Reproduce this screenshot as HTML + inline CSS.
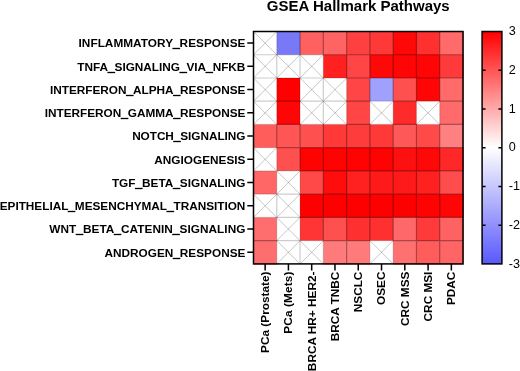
<!DOCTYPE html><html><head><meta charset="utf-8"><style>html,body{margin:0;padding:0;background:#fff;width:520px;height:371px;overflow:hidden}</style></head><body><svg width="520" height="371" viewBox="0 0 520 371" style="position:absolute;left:0;top:0">
<rect x="253.50" y="31.50" width="23.28" height="23.24" fill="#fff"/>
<rect x="276.78" y="31.50" width="23.98" height="23.94" fill="#7979f8"/>
<rect x="300.06" y="31.50" width="23.98" height="23.94" fill="#ff6060"/>
<rect x="323.33" y="31.50" width="23.98" height="23.94" fill="#ff6464"/>
<rect x="346.61" y="31.50" width="23.98" height="23.94" fill="#ff4040"/>
<rect x="369.89" y="31.50" width="23.98" height="23.94" fill="#ff3838"/>
<rect x="393.17" y="31.50" width="23.98" height="23.94" fill="#ff0808"/>
<rect x="416.44" y="31.50" width="23.98" height="23.94" fill="#ff3030"/>
<rect x="439.72" y="31.50" width="23.98" height="23.94" fill="#ff6a6a"/>
<rect x="253.50" y="54.74" width="23.28" height="23.24" fill="#fff"/>
<rect x="276.78" y="54.74" width="23.28" height="23.24" fill="#fff"/>
<rect x="300.06" y="54.74" width="23.28" height="23.24" fill="#fff"/>
<rect x="323.33" y="54.74" width="23.98" height="23.94" fill="#ff2020"/>
<rect x="346.61" y="54.74" width="23.98" height="23.94" fill="#ff4545"/>
<rect x="369.89" y="54.74" width="23.98" height="23.94" fill="#ff0808"/>
<rect x="393.17" y="54.74" width="23.98" height="23.94" fill="#ff0505"/>
<rect x="416.44" y="54.74" width="23.98" height="23.94" fill="#ff0505"/>
<rect x="439.72" y="54.74" width="23.98" height="23.94" fill="#ff3a3a"/>
<rect x="253.50" y="77.98" width="23.28" height="23.24" fill="#fff"/>
<rect x="276.78" y="77.98" width="23.98" height="23.94" fill="#ff0000"/>
<rect x="300.06" y="77.98" width="23.28" height="23.24" fill="#fff"/>
<rect x="323.33" y="77.98" width="23.28" height="23.24" fill="#fff"/>
<rect x="346.61" y="77.98" width="23.98" height="23.94" fill="#ff4545"/>
<rect x="369.89" y="77.98" width="23.98" height="23.94" fill="#a0a0ff"/>
<rect x="393.17" y="77.98" width="23.98" height="23.94" fill="#ff5050"/>
<rect x="416.44" y="77.98" width="23.98" height="23.94" fill="#ff0505"/>
<rect x="439.72" y="77.98" width="23.98" height="23.94" fill="#ff6a6a"/>
<rect x="253.50" y="101.22" width="23.28" height="23.24" fill="#fff"/>
<rect x="276.78" y="101.22" width="23.98" height="23.94" fill="#ff0505"/>
<rect x="300.06" y="101.22" width="23.28" height="23.24" fill="#fff"/>
<rect x="323.33" y="101.22" width="23.28" height="23.24" fill="#fff"/>
<rect x="346.61" y="101.22" width="23.98" height="23.94" fill="#ff4545"/>
<rect x="369.89" y="101.22" width="23.28" height="23.24" fill="#fff"/>
<rect x="393.17" y="101.22" width="23.98" height="23.94" fill="#ff2a2a"/>
<rect x="416.44" y="101.22" width="23.28" height="23.24" fill="#fff"/>
<rect x="439.72" y="101.22" width="23.98" height="23.94" fill="#ff6a6a"/>
<rect x="253.50" y="124.46" width="23.98" height="23.94" fill="#ff5c5c"/>
<rect x="276.78" y="124.46" width="23.98" height="23.94" fill="#ff5555"/>
<rect x="300.06" y="124.46" width="23.98" height="23.94" fill="#ff5050"/>
<rect x="323.33" y="124.46" width="23.98" height="23.94" fill="#ff3838"/>
<rect x="346.61" y="124.46" width="23.98" height="23.94" fill="#ff3c3c"/>
<rect x="369.89" y="124.46" width="23.98" height="23.94" fill="#ff3838"/>
<rect x="393.17" y="124.46" width="23.98" height="23.94" fill="#ff5858"/>
<rect x="416.44" y="124.46" width="23.98" height="23.94" fill="#ff4a4a"/>
<rect x="439.72" y="124.46" width="23.98" height="23.94" fill="#ff8080"/>
<rect x="253.50" y="147.70" width="23.28" height="23.24" fill="#fff"/>
<rect x="276.78" y="147.70" width="23.98" height="23.94" fill="#ff5050"/>
<rect x="300.06" y="147.70" width="23.98" height="23.94" fill="#ff0303"/>
<rect x="323.33" y="147.70" width="23.98" height="23.94" fill="#ff0303"/>
<rect x="346.61" y="147.70" width="23.98" height="23.94" fill="#ff0303"/>
<rect x="369.89" y="147.70" width="23.98" height="23.94" fill="#ff0303"/>
<rect x="393.17" y="147.70" width="23.98" height="23.94" fill="#ff1010"/>
<rect x="416.44" y="147.70" width="23.98" height="23.94" fill="#ff0808"/>
<rect x="439.72" y="147.70" width="23.98" height="23.94" fill="#ff2828"/>
<rect x="253.50" y="170.94" width="23.98" height="23.94" fill="#ff6666"/>
<rect x="276.78" y="170.94" width="23.28" height="23.24" fill="#fff"/>
<rect x="300.06" y="170.94" width="23.98" height="23.94" fill="#ff4848"/>
<rect x="323.33" y="170.94" width="23.98" height="23.94" fill="#ff0c0c"/>
<rect x="346.61" y="170.94" width="23.98" height="23.94" fill="#ff2020"/>
<rect x="369.89" y="170.94" width="23.98" height="23.94" fill="#ff1a1a"/>
<rect x="393.17" y="170.94" width="23.98" height="23.94" fill="#ff1a1a"/>
<rect x="416.44" y="170.94" width="23.98" height="23.94" fill="#ff2020"/>
<rect x="439.72" y="170.94" width="23.98" height="23.94" fill="#ff4c4c"/>
<rect x="253.50" y="194.18" width="23.28" height="23.24" fill="#fff"/>
<rect x="276.78" y="194.18" width="23.28" height="23.24" fill="#fff"/>
<rect x="300.06" y="194.18" width="23.98" height="23.94" fill="#ff0000"/>
<rect x="323.33" y="194.18" width="23.98" height="23.94" fill="#ff0000"/>
<rect x="346.61" y="194.18" width="23.98" height="23.94" fill="#ff0000"/>
<rect x="369.89" y="194.18" width="23.98" height="23.94" fill="#ff0000"/>
<rect x="393.17" y="194.18" width="23.98" height="23.94" fill="#ff0000"/>
<rect x="416.44" y="194.18" width="23.98" height="23.94" fill="#ff0303"/>
<rect x="439.72" y="194.18" width="23.98" height="23.94" fill="#ff0505"/>
<rect x="253.50" y="217.42" width="23.98" height="23.94" fill="#ff6e6e"/>
<rect x="276.78" y="217.42" width="23.28" height="23.24" fill="#fff"/>
<rect x="300.06" y="217.42" width="23.98" height="23.94" fill="#ff3535"/>
<rect x="323.33" y="217.42" width="23.98" height="23.94" fill="#ff5050"/>
<rect x="346.61" y="217.42" width="23.98" height="23.94" fill="#ff3030"/>
<rect x="369.89" y="217.42" width="23.98" height="23.94" fill="#ff3030"/>
<rect x="393.17" y="217.42" width="23.98" height="23.94" fill="#ff6868"/>
<rect x="416.44" y="217.42" width="23.98" height="23.94" fill="#ff3a3a"/>
<rect x="439.72" y="217.42" width="23.98" height="23.94" fill="#ff6262"/>
<rect x="253.50" y="240.66" width="23.98" height="23.94" fill="#ff6e6e"/>
<rect x="276.78" y="240.66" width="23.28" height="23.24" fill="#fff"/>
<rect x="300.06" y="240.66" width="23.28" height="23.24" fill="#fff"/>
<rect x="323.33" y="240.66" width="23.98" height="23.94" fill="#ff7a7a"/>
<rect x="346.61" y="240.66" width="23.98" height="23.94" fill="#ff7a7a"/>
<rect x="369.89" y="240.66" width="23.28" height="23.24" fill="#fff"/>
<rect x="393.17" y="240.66" width="23.98" height="23.94" fill="#ff7070"/>
<rect x="416.44" y="240.66" width="23.98" height="23.94" fill="#ff5c5c"/>
<rect x="439.72" y="240.66" width="23.98" height="23.94" fill="#ff6565"/>
<g stroke="#000" stroke-opacity="0.3" stroke-width="0.75" fill="none"><path d="M253.50 31.50L276.78 54.74M276.78 31.50L253.50 54.74"/><path d="M253.50 54.74L276.78 77.98M276.78 54.74L253.50 77.98"/><path d="M276.78 54.74L300.06 77.98M300.06 54.74L276.78 77.98"/><path d="M300.06 54.74L323.33 77.98M323.33 54.74L300.06 77.98"/><path d="M253.50 77.98L276.78 101.22M276.78 77.98L253.50 101.22"/><path d="M300.06 77.98L323.33 101.22M323.33 77.98L300.06 101.22"/><path d="M323.33 77.98L346.61 101.22M346.61 77.98L323.33 101.22"/><path d="M253.50 101.22L276.78 124.46M276.78 101.22L253.50 124.46"/><path d="M300.06 101.22L323.33 124.46M323.33 101.22L300.06 124.46"/><path d="M323.33 101.22L346.61 124.46M346.61 101.22L323.33 124.46"/><path d="M369.89 101.22L393.17 124.46M393.17 101.22L369.89 124.46"/><path d="M416.44 101.22L439.72 124.46M439.72 101.22L416.44 124.46"/><path d="M253.50 147.70L276.78 170.94M276.78 147.70L253.50 170.94"/><path d="M276.78 170.94L300.06 194.18M300.06 170.94L276.78 194.18"/><path d="M253.50 194.18L276.78 217.42M276.78 194.18L253.50 217.42"/><path d="M276.78 194.18L300.06 217.42M300.06 194.18L276.78 217.42"/><path d="M276.78 217.42L300.06 240.66M300.06 217.42L276.78 240.66"/><path d="M276.78 240.66L300.06 263.90M300.06 240.66L276.78 263.90"/><path d="M300.06 240.66L323.33 263.90M323.33 240.66L300.06 263.90"/><path d="M369.89 240.66L393.17 263.90M393.17 240.66L369.89 263.90"/></g>
<path d="M276.78 54.74V77.98M276.78 194.18V217.42M300.06 54.74V77.98M300.06 240.66V263.90M323.33 77.98V101.22M323.33 101.22V124.46M253.50 54.74H276.78M253.50 77.98H276.78M300.06 77.98H323.33M253.50 101.22H276.78M300.06 101.22H323.33M323.33 101.22H346.61M276.78 194.18H300.06M276.78 217.42H300.06M276.78 240.66H300.06" stroke="#000" stroke-opacity="0.2" stroke-width="1.2" fill="none"/>
<path d="M276.78 31.50V54.74M276.78 77.98V101.22M276.78 101.22V124.46M276.78 147.70V170.94M276.78 170.94V194.18M276.78 217.42V240.66M276.78 240.66V263.90M300.06 77.98V101.22M300.06 101.22V124.46M300.06 170.94V194.18M300.06 194.18V217.42M300.06 217.42V240.66M323.33 54.74V77.98M323.33 240.66V263.90M346.61 77.98V101.22M346.61 101.22V124.46M369.89 101.22V124.46M369.89 240.66V263.90M393.17 101.22V124.46M393.17 240.66V263.90M416.44 101.22V124.46M439.72 101.22V124.46M276.78 54.74H300.06M300.06 54.74H323.33M276.78 77.98H300.06M323.33 77.98H346.61M369.89 101.22H393.17M416.44 101.22H439.72M253.50 124.46H276.78M300.06 124.46H323.33M323.33 124.46H346.61M369.89 124.46H393.17M416.44 124.46H439.72M253.50 147.70H276.78M253.50 170.94H276.78M276.78 170.94H300.06M253.50 194.18H276.78M253.50 217.42H276.78M300.06 240.66H323.33M369.89 240.66H393.17" stroke="#000" stroke-opacity="0.13" stroke-width="1.3" fill="none"/>
<path d="M276.78 124.46V147.70M300.06 31.50V54.74M300.06 124.46V147.70M300.06 147.70V170.94M323.33 31.50V54.74M323.33 124.46V147.70M323.33 147.70V170.94M323.33 170.94V194.18M323.33 194.18V217.42M323.33 217.42V240.66M346.61 31.50V54.74M346.61 54.74V77.98M346.61 124.46V147.70M346.61 147.70V170.94M346.61 170.94V194.18M346.61 194.18V217.42M346.61 217.42V240.66M346.61 240.66V263.90M369.89 31.50V54.74M369.89 54.74V77.98M369.89 77.98V101.22M369.89 124.46V147.70M369.89 147.70V170.94M369.89 170.94V194.18M369.89 194.18V217.42M369.89 217.42V240.66M393.17 31.50V54.74M393.17 54.74V77.98M393.17 77.98V101.22M393.17 124.46V147.70M393.17 147.70V170.94M393.17 170.94V194.18M393.17 194.18V217.42M393.17 217.42V240.66M416.44 31.50V54.74M416.44 54.74V77.98M416.44 77.98V101.22M416.44 124.46V147.70M416.44 147.70V170.94M416.44 170.94V194.18M416.44 194.18V217.42M416.44 217.42V240.66M416.44 240.66V263.90M439.72 31.50V54.74M439.72 54.74V77.98M439.72 77.98V101.22M439.72 124.46V147.70M439.72 147.70V170.94M439.72 170.94V194.18M439.72 194.18V217.42M439.72 217.42V240.66M439.72 240.66V263.90M323.33 54.74H346.61M346.61 54.74H369.89M369.89 54.74H393.17M393.17 54.74H416.44M416.44 54.74H439.72M439.72 54.74H463.00M346.61 77.98H369.89M369.89 77.98H393.17M393.17 77.98H416.44M416.44 77.98H439.72M439.72 77.98H463.00M276.78 101.22H300.06M346.61 101.22H369.89M393.17 101.22H416.44M439.72 101.22H463.00M276.78 124.46H300.06M346.61 124.46H369.89M393.17 124.46H416.44M439.72 124.46H463.00M276.78 147.70H300.06M300.06 147.70H323.33M323.33 147.70H346.61M346.61 147.70H369.89M369.89 147.70H393.17M393.17 147.70H416.44M416.44 147.70H439.72M439.72 147.70H463.00M300.06 170.94H323.33M323.33 170.94H346.61M346.61 170.94H369.89M369.89 170.94H393.17M393.17 170.94H416.44M416.44 170.94H439.72M439.72 170.94H463.00M300.06 194.18H323.33M323.33 194.18H346.61M346.61 194.18H369.89M369.89 194.18H393.17M393.17 194.18H416.44M416.44 194.18H439.72M439.72 194.18H463.00M300.06 217.42H323.33M323.33 217.42H346.61M346.61 217.42H369.89M369.89 217.42H393.17M393.17 217.42H416.44M416.44 217.42H439.72M439.72 217.42H463.00M253.50 240.66H276.78M323.33 240.66H346.61M346.61 240.66H369.89M393.17 240.66H416.44M416.44 240.66H439.72M439.72 240.66H463.00" stroke="#000" stroke-opacity="0.33" stroke-width="1.2" fill="none"/>
<rect x="253.5" y="31.5" width="209.5" height="232.39999999999998" fill="none" stroke="#000" stroke-width="1.5"/>
<path d="M247.3 43.12H253.5M247.3 66.36H253.5M247.3 89.60H253.5M247.3 112.84H253.5M247.3 136.08H253.5M247.3 159.32H253.5M247.3 182.56H253.5M247.3 205.80H253.5M247.3 229.04H253.5M247.3 252.28H253.5M265.14 263.9V270.5M288.42 263.9V270.5M311.69 263.9V270.5M334.97 263.9V270.5M358.25 263.9V270.5M381.53 263.9V270.5M404.81 263.9V270.5M428.08 263.9V270.5M451.36 263.9V270.5" stroke="#000" stroke-width="1.5" fill="none"/>
<text x="245.4" y="47.42" text-anchor="end" textLength="166.87" lengthAdjust="spacing" font-family="'Liberation Sans', Arial, sans-serif" font-weight="bold" font-size="11.8">INFLAMMATORY<tspan stroke="#000" stroke-width="0.9">_</tspan>RESPONSE</text>
<text x="245.4" y="70.66" text-anchor="end" textLength="168.15" lengthAdjust="spacing" font-family="'Liberation Sans', Arial, sans-serif" font-weight="bold" font-size="11.8">TNFA<tspan stroke="#000" stroke-width="0.9">_</tspan>SIGNALING<tspan stroke="#000" stroke-width="0.9">_</tspan>VIA<tspan stroke="#000" stroke-width="0.9">_</tspan>NFKB</text>
<text x="245.4" y="93.90" text-anchor="end" textLength="195.40" lengthAdjust="spacing" font-family="'Liberation Sans', Arial, sans-serif" font-weight="bold" font-size="11.8">INTERFERON<tspan stroke="#000" stroke-width="0.9">_</tspan>ALPHA<tspan stroke="#000" stroke-width="0.9">_</tspan>RESPONSE</text>
<text x="245.4" y="117.14" text-anchor="end" textLength="200.63" lengthAdjust="spacing" font-family="'Liberation Sans', Arial, sans-serif" font-weight="bold" font-size="11.8">INTERFERON<tspan stroke="#000" stroke-width="0.9">_</tspan>GAMMA<tspan stroke="#000" stroke-width="0.9">_</tspan>RESPONSE</text>
<text x="245.4" y="140.38" text-anchor="end" textLength="113.25" lengthAdjust="spacing" font-family="'Liberation Sans', Arial, sans-serif" font-weight="bold" font-size="11.8">NOTCH<tspan stroke="#000" stroke-width="0.9">_</tspan>SIGNALING</text>
<text x="245.4" y="163.62" text-anchor="end" textLength="91.13" lengthAdjust="spacing" font-family="'Liberation Sans', Arial, sans-serif" font-weight="bold" font-size="11.8">ANGIOGENESIS</text>
<text x="245.4" y="186.86" text-anchor="end" textLength="133.50" lengthAdjust="spacing" font-family="'Liberation Sans', Arial, sans-serif" font-weight="bold" font-size="11.8">TGF<tspan stroke="#000" stroke-width="0.9">_</tspan>BETA<tspan stroke="#000" stroke-width="0.9">_</tspan>SIGNALING</text>
<text x="245.4" y="210.10" text-anchor="end" textLength="245.65" lengthAdjust="spacing" font-family="'Liberation Sans', Arial, sans-serif" font-weight="bold" font-size="11.8">EPITHELIAL<tspan stroke="#000" stroke-width="0.9">_</tspan>MESENCHYMAL<tspan stroke="#000" stroke-width="0.9">_</tspan>TRANSITION</text>
<text x="245.4" y="233.34" text-anchor="end" textLength="196.08" lengthAdjust="spacing" font-family="'Liberation Sans', Arial, sans-serif" font-weight="bold" font-size="11.8">WNT<tspan stroke="#000" stroke-width="0.9">_</tspan>BETA<tspan stroke="#000" stroke-width="0.9">_</tspan>CATENIN<tspan stroke="#000" stroke-width="0.9">_</tspan>SIGNALING</text>
<text x="245.4" y="256.58" text-anchor="end" textLength="140.94" lengthAdjust="spacing" font-family="'Liberation Sans', Arial, sans-serif" font-weight="bold" font-size="11.8">ANDROGEN<tspan stroke="#000" stroke-width="0.9">_</tspan>RESPONSE</text>
<text transform="translate(268.64,271.6) rotate(-90)" text-anchor="end" font-family="'Liberation Sans', Arial, sans-serif" font-weight="bold" font-size="11.8">PCa (Prostate)</text>
<text transform="translate(291.92,271.6) rotate(-90)" text-anchor="end" textLength="62.1" lengthAdjust="spacing" font-family="'Liberation Sans', Arial, sans-serif" font-weight="bold" font-size="11.8">PCa (Mets)</text>
<text transform="translate(315.69,271.6) rotate(-90)" text-anchor="end" font-family="'Liberation Sans', Arial, sans-serif" font-weight="bold" font-size="11.8">BRCA HR+ HER2-</text>
<text transform="translate(339.07,271.6) rotate(-90)" text-anchor="end" font-family="'Liberation Sans', Arial, sans-serif" font-weight="bold" font-size="11.8">BRCA TNBC</text>
<text transform="translate(361.75,271.6) rotate(-90)" text-anchor="end" font-family="'Liberation Sans', Arial, sans-serif" font-weight="bold" font-size="11.8">NSCLC</text>
<text transform="translate(385.03,271.6) rotate(-90)" text-anchor="end" font-family="'Liberation Sans', Arial, sans-serif" font-weight="bold" font-size="11.8">OSEC</text>
<text transform="translate(408.71,271.6) rotate(-90)" text-anchor="end" font-family="'Liberation Sans', Arial, sans-serif" font-weight="bold" font-size="11.8">CRC MSS</text>
<text transform="translate(431.58,271.6) rotate(-90)" text-anchor="end" font-family="'Liberation Sans', Arial, sans-serif" font-weight="bold" font-size="11.8">CRC MSI</text>
<text transform="translate(454.86,271.6) rotate(-90)" text-anchor="end" font-family="'Liberation Sans', Arial, sans-serif" font-weight="bold" font-size="11.8">PDAC</text>
<text x="358.3" y="11.2" text-anchor="middle" font-family="'Liberation Sans', Arial, sans-serif" font-weight="bold" font-size="15">GSEA Hallmark Pathways</text>
<defs><linearGradient id="cb" x1="0" y1="0" x2="0" y2="1"><stop offset="0" stop-color="#ff0000"/><stop offset="0.5" stop-color="#ffffff"/><stop offset="1" stop-color="#5858fc"/></linearGradient></defs>
<rect x="482.1" y="31.5" width="19.799999999999955" height="232.39999999999998" fill="url(#cb)" stroke="#000" stroke-width="1.5"/>
<path d="M482.1 70.23h3.5M501.9 70.23h-3.5M482.1 108.97h3.5M501.9 108.97h-3.5M482.1 147.70h3.5M501.9 147.70h-3.5M482.1 186.43h3.5M501.9 186.43h-3.5M482.1 225.17h3.5M501.9 225.17h-3.5" stroke="#000" stroke-width="1.5" fill="none"/>
<text x="508.8" y="35.25" font-family="'Liberation Sans', Arial, sans-serif" font-size="12.6">3</text>
<text x="508.8" y="73.98" font-family="'Liberation Sans', Arial, sans-serif" font-size="12.6">2</text>
<text x="508.8" y="112.72" font-family="'Liberation Sans', Arial, sans-serif" font-size="12.6">1</text>
<text x="508.8" y="151.45" font-family="'Liberation Sans', Arial, sans-serif" font-size="12.6">0</text>
<text x="508.8" y="190.18" font-family="'Liberation Sans', Arial, sans-serif" font-size="12.6">-1</text>
<text x="508.8" y="228.92" font-family="'Liberation Sans', Arial, sans-serif" font-size="12.6">-2</text>
<text x="508.8" y="267.65" font-family="'Liberation Sans', Arial, sans-serif" font-size="12.6">-3</text>
</svg></body></html>
